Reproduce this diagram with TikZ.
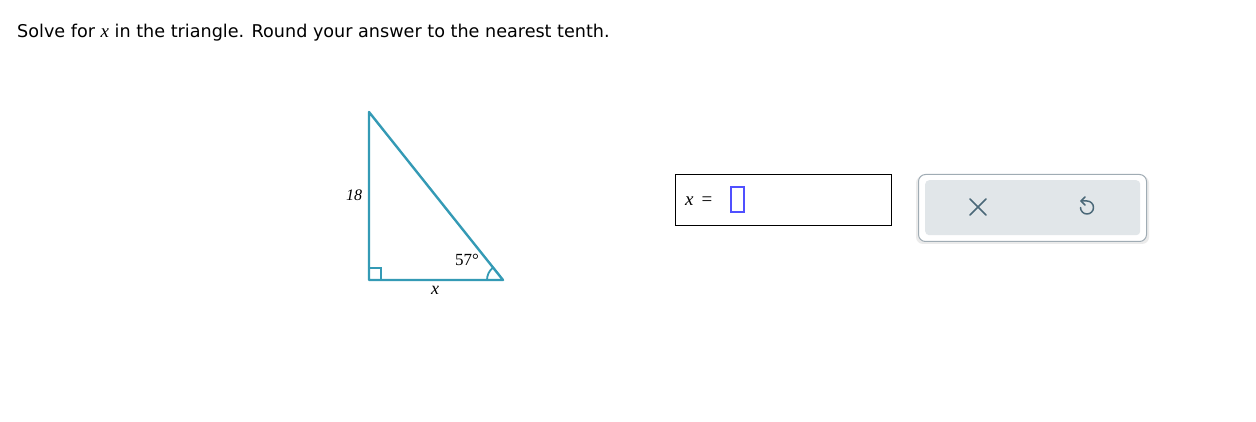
\documentclass[tikz,border=0pt]{standalone}
\usepackage{fontspec}
\setmainfont{DejaVu Sans}
\newfontfamily\tms{Liberation Serif}
\usetikzlibrary{calc}
\definecolor{tri}{RGB}{52,154,181}
\definecolor{btnfill}{RGB}{225,230,233}
\definecolor{btnborder}{RGB}{160,172,180}
\definecolor{icon}{RGB}{74,104,120}
\definecolor{cursor}{RGB}{80,80,255}
\begin{document}
\begin{tikzpicture}[x=1pt,y=-1pt,
  side/.style={draw=tri,line width=2.4pt,line join=round},
  lab/.style={inner sep=0pt,font=\tms\fontsize{17}{17}\selectfont},
  iconline/.style={draw=icon,line width=1.5pt,line cap=round,line join=round}]
\useasboundingbox[fill=white] (0,0) rectangle (1256,422);
% question
\node[anchor=west,inner sep=0pt,font=\fontsize{17.6}{20}\selectfont] (q) at (17,32.5)
  {Solve for {\tms\itshape\fontsize{19}{20}\selectfont x} in the triangle. Round your answer to the nearest tenth.};
% triangle
\coordinate (A) at (369,112);
\coordinate (C) at (369,280);
\coordinate (B) at (503,280);
\draw[side] (A) -- (C) -- (B) -- cycle;
\draw[draw=tri,line width=1.8pt] ($(C)+(0,-12)$) -- ++(12,0) -- ++(0,12);
\draw[draw=tri,line width=1.8pt] ($(B)+(-16,0)$) arc[start angle=180,end angle=231.4,radius=16];
\node[lab,font=\tms\itshape\fontsize{16}{16}\selectfont] (l18) at (354,195) {18};
\node[lab] (l57) at (467,260) {57°};
\node[lab,font=\tms\itshape\fontsize{18}{18}\selectfont] (lx) at (435,290) {x};
% answer box
\node[draw=black,line width=1pt,minimum width=216pt,minimum height=51pt,anchor=north west,inner sep=0pt] (ans) at (675,174) {};
\node[inner sep=0pt,anchor=west,font=\tms\fontsize{19}{19}\selectfont] (eq) at (685,201) {\itshape x\upshape\ \,=};
\draw[cursor,line width=1.2pt] (731,187) rectangle (744,212);
% buttons
\fill[black!8,rounded corners=7pt] (916,176) rectangle (1149,244);
\node[draw=btnborder,fill=white,line width=1pt,rounded corners=7pt,minimum width=228pt,minimum height=67pt,anchor=north west,inner sep=0pt] (panel) at (918,174) {};
\node[fill=btnfill,rounded corners=4pt,minimum width=215pt,minimum height=55pt,anchor=north west,inner sep=0pt] (inner) at (925,180) {};
\draw[iconline] (970,199) -- (986,215) (986,199) -- (970,215);
\draw[iconline] (1081,201) -- (1087,201) arc[start angle=-90,end angle=180,radius=6.5];
\draw[iconline] (1085,197) -- (1081,201) -- (1085,205);
\end{tikzpicture}
\end{document}
